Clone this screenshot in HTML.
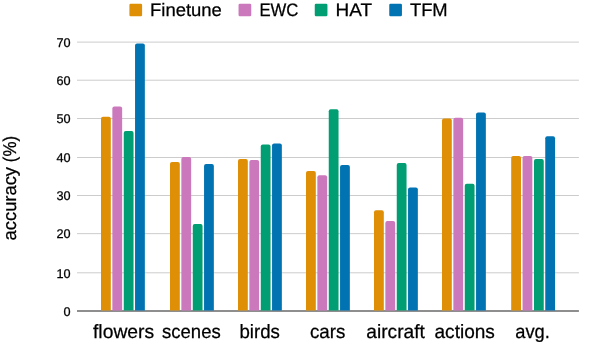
<!DOCTYPE html><html><head><meta charset="utf-8"><title>chart</title><style>html,body{margin:0;padding:0;background:#fff}svg{display:block}text{font-family:"Liberation Sans",sans-serif;fill:#000;text-rendering:geometricPrecision;stroke:#000;stroke-width:0.25px}</style></head><body>
<svg width="598" height="362" viewBox="0 0 598 362">
<rect width="598" height="362" fill="#fff"/>
<defs><clipPath id="c"><rect x="0" y="0" width="598" height="310.50"/></clipPath></defs>
<rect x="77" y="41.60" width="501.9" height="1" fill="#cccccc"/>
<rect x="77" y="79.70" width="501.9" height="1" fill="#cccccc"/>
<rect x="77" y="118.00" width="501.9" height="1" fill="#cccccc"/>
<rect x="77" y="157.00" width="501.9" height="1" fill="#cccccc"/>
<rect x="77" y="195.00" width="501.9" height="1" fill="#cccccc"/>
<rect x="77" y="233.15" width="501.9" height="1" fill="#cccccc"/>
<rect x="77" y="272.30" width="501.9" height="1" fill="#cccccc"/>
<rect x="77" y="310.00" width="501.9" height="2" fill="#8e8e8e"/>
<rect x="101.00" y="116.85" width="9.8" height="197.25" rx="2" ry="2" fill="#DE8F05" clip-path="url(#c)"/>
<rect x="112.35" y="106.40" width="9.8" height="207.70" rx="2" ry="2" fill="#CC78BC" clip-path="url(#c)"/>
<rect x="123.75" y="131.00" width="9.8" height="183.10" rx="2" ry="2" fill="#029E73" clip-path="url(#c)"/>
<rect x="135.05" y="43.50" width="9.8" height="270.60" rx="2" ry="2" fill="#0173B2" clip-path="url(#c)"/>
<rect x="170.00" y="162.00" width="9.8" height="152.10" rx="2" ry="2" fill="#DE8F05" clip-path="url(#c)"/>
<rect x="181.35" y="157.00" width="9.8" height="157.10" rx="2" ry="2" fill="#CC78BC" clip-path="url(#c)"/>
<rect x="192.75" y="223.90" width="9.8" height="90.20" rx="2" ry="2" fill="#029E73" clip-path="url(#c)"/>
<rect x="204.05" y="164.00" width="9.8" height="150.10" rx="2" ry="2" fill="#0173B2" clip-path="url(#c)"/>
<rect x="238.00" y="159.07" width="9.8" height="155.03" rx="2" ry="2" fill="#DE8F05" clip-path="url(#c)"/>
<rect x="249.35" y="160.07" width="9.8" height="154.03" rx="2" ry="2" fill="#CC78BC" clip-path="url(#c)"/>
<rect x="260.75" y="144.50" width="9.8" height="169.60" rx="2" ry="2" fill="#029E73" clip-path="url(#c)"/>
<rect x="272.05" y="143.50" width="9.8" height="170.60" rx="2" ry="2" fill="#0173B2" clip-path="url(#c)"/>
<rect x="306.00" y="171.05" width="9.8" height="143.05" rx="2" ry="2" fill="#DE8F05" clip-path="url(#c)"/>
<rect x="317.35" y="175.26" width="9.8" height="138.84" rx="2" ry="2" fill="#CC78BC" clip-path="url(#c)"/>
<rect x="328.75" y="109.30" width="9.8" height="204.80" rx="2" ry="2" fill="#029E73" clip-path="url(#c)"/>
<rect x="340.05" y="165.00" width="9.8" height="149.10" rx="2" ry="2" fill="#0173B2" clip-path="url(#c)"/>
<rect x="374.00" y="210.30" width="9.8" height="103.80" rx="2" ry="2" fill="#DE8F05" clip-path="url(#c)"/>
<rect x="385.35" y="220.90" width="9.8" height="93.20" rx="2" ry="2" fill="#CC78BC" clip-path="url(#c)"/>
<rect x="396.75" y="163.00" width="9.8" height="151.10" rx="2" ry="2" fill="#029E73" clip-path="url(#c)"/>
<rect x="408.05" y="187.60" width="9.8" height="126.50" rx="2" ry="2" fill="#0173B2" clip-path="url(#c)"/>
<rect x="442.00" y="118.55" width="9.8" height="195.55" rx="2" ry="2" fill="#DE8F05" clip-path="url(#c)"/>
<rect x="453.35" y="117.85" width="9.8" height="196.25" rx="2" ry="2" fill="#CC78BC" clip-path="url(#c)"/>
<rect x="464.75" y="183.74" width="9.8" height="130.36" rx="2" ry="2" fill="#029E73" clip-path="url(#c)"/>
<rect x="476.05" y="112.50" width="9.8" height="201.60" rx="2" ry="2" fill="#0173B2" clip-path="url(#c)"/>
<rect x="511.20" y="155.90" width="9.8" height="158.20" rx="2" ry="2" fill="#DE8F05" clip-path="url(#c)"/>
<rect x="522.55" y="155.90" width="9.8" height="158.20" rx="2" ry="2" fill="#CC78BC" clip-path="url(#c)"/>
<rect x="533.95" y="159.10" width="9.8" height="155.00" rx="2" ry="2" fill="#029E73" clip-path="url(#c)"/>
<rect x="545.25" y="136.20" width="9.8" height="177.90" rx="2" ry="2" fill="#0173B2" clip-path="url(#c)"/>
<text x="70.5" y="315.70" font-size="12.7" text-anchor="end" fill="#111" stroke="#111" stroke-width="0.15">0</text>
<text x="70.5" y="277.50" font-size="12.7" text-anchor="end" fill="#111" stroke="#111" stroke-width="0.15">10</text>
<text x="70.5" y="238.35" font-size="12.7" text-anchor="end" fill="#111" stroke="#111" stroke-width="0.15">20</text>
<text x="70.5" y="200.20" font-size="12.7" text-anchor="end" fill="#111" stroke="#111" stroke-width="0.15">30</text>
<text x="70.5" y="162.20" font-size="12.7" text-anchor="end" fill="#111" stroke="#111" stroke-width="0.15">40</text>
<text x="70.5" y="123.20" font-size="12.7" text-anchor="end" fill="#111" stroke="#111" stroke-width="0.15">50</text>
<text x="70.5" y="84.90" font-size="12.7" text-anchor="end" fill="#111" stroke="#111" stroke-width="0.15">60</text>
<text x="70.5" y="46.80" font-size="12.7" text-anchor="end" fill="#111" stroke="#111" stroke-width="0.15">70</text>
<text x="93.0" y="337.75" font-size="19.2" textLength="61.2" lengthAdjust="spacingAndGlyphs">flowers</text>
<text x="162.0" y="337.75" font-size="19.2" textLength="58.7" lengthAdjust="spacingAndGlyphs">scenes</text>
<text x="239.5" y="337.75" font-size="19.2" textLength="40.4" lengthAdjust="spacingAndGlyphs">birds</text>
<text x="310.0" y="337.75" font-size="19.2" textLength="35.4" lengthAdjust="spacingAndGlyphs">cars</text>
<text x="366.3" y="337.75" font-size="19.2" textLength="58.6" lengthAdjust="spacingAndGlyphs">aircraft</text>
<text x="434.5" y="337.75" font-size="19.2" textLength="60.4" lengthAdjust="spacingAndGlyphs">actions</text>
<text x="515.3" y="337.75" font-size="19.2" textLength="34.6" lengthAdjust="spacingAndGlyphs">avg.</text>
<text transform="translate(15.9,240.4) rotate(-90)" font-size="18.5"><tspan x="0" textLength="73.4" lengthAdjust="spacingAndGlyphs">accuracy</tspan> <tspan x="78.2" textLength="26.3" lengthAdjust="spacingAndGlyphs">(%)</tspan></text>
<rect x="129.40" y="3.8" width="12.7" height="12.5" rx="1.3" fill="#DE8F05"/>
<text x="150.0" y="16.2" font-size="18" fill="#1a1a1a" stroke="#1a1a1a" stroke-width="0.15" textLength="71.9" lengthAdjust="spacingAndGlyphs">Finetune</text>
<rect x="238.55" y="3.8" width="12.7" height="12.5" rx="1.3" fill="#CC78BC"/>
<text x="259.4" y="16.2" font-size="18" fill="#1a1a1a" stroke="#1a1a1a" stroke-width="0.15" textLength="39.0" lengthAdjust="spacingAndGlyphs">EWC</text>
<rect x="314.75" y="3.8" width="12.7" height="12.5" rx="1.3" fill="#029E73"/>
<text x="335.6" y="16.2" font-size="18" fill="#1a1a1a" stroke="#1a1a1a" stroke-width="0.15" textLength="36.5" lengthAdjust="spacingAndGlyphs">HAT</text>
<rect x="389.25" y="3.8" width="12.7" height="12.5" rx="1.3" fill="#0173B2"/>
<text x="409.9" y="16.2" font-size="18" fill="#1a1a1a" stroke="#1a1a1a" stroke-width="0.15" textLength="37.8" lengthAdjust="spacingAndGlyphs">TFM</text>
</svg></body></html>
